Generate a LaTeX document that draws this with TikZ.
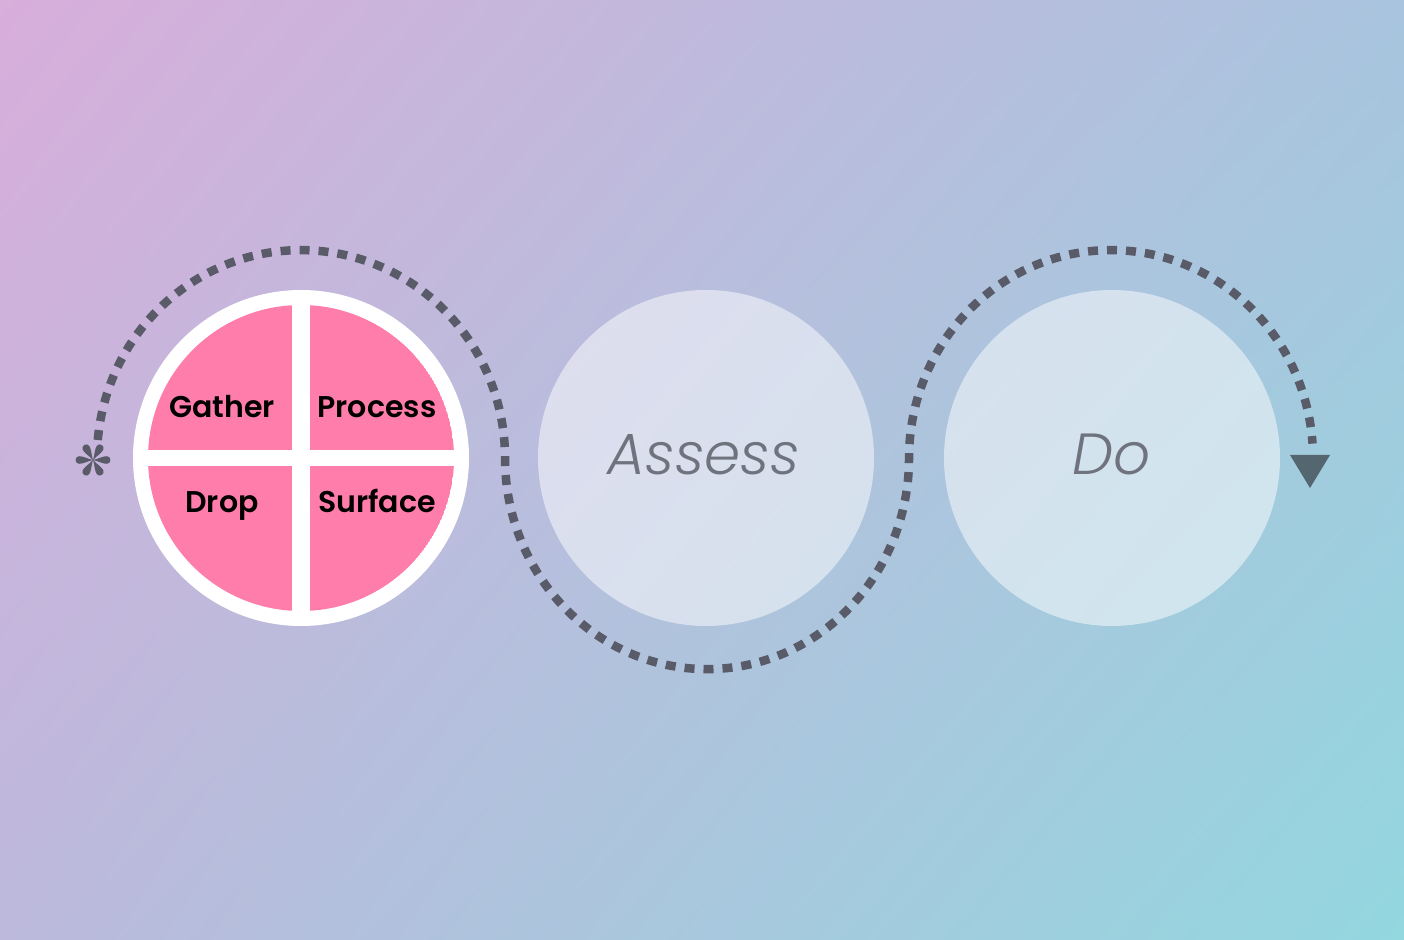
\documentclass[tikz,border=0pt]{standalone}
\usepackage{fontspec}
\usetikzlibrary{shadings}
\setmainfont{Poppins}
\newfontfamily\labfont{Poppins SemiBold}
\newfontfamily\lightit{Poppins Light Italic}
\definecolor{bgTL}{HTML}{D8AEDB}
\definecolor{bgTR}{HTML}{A9C4DE}
\definecolor{bgBL}{HTML}{BCB9DC}
\definecolor{bgBR}{HTML}{93D7DF}
\definecolor{pinkq}{HTML}{FF7DAA}
\definecolor{dotcol}{HTML}{595B69}
\definecolor{arrowcol}{HTML}{546670}
\definecolor{txtgrey}{HTML}{6E737E}
\tikzset{
  x=1pt, y=1pt,
  bigdisk/.style={circle, minimum size=336pt, inner sep=0pt, outer sep=0pt},
  ghost/.style={bigdisk, fill=white, fill opacity=0.5},
  quadlabel/.style={anchor=base, inner sep=0pt, font=\labfont\fontsize{30}{36}\selectfont, text=black},
  steplabel/.style={anchor=base, inner sep=0pt, font=\lightit\fontsize{58}{68}\selectfont, text=txtgrey},
  dotline/.style={draw=dotcol, line width=8.5pt, dash pattern=on 10pt off 9pt},
  petal/.style={fill=dotcol}
}
\begin{document}
\begin{tikzpicture}
\useasboundingbox (0,0) rectangle (1404,939);
\shade[upper left=bgTL, upper right=bgTR, lower left=bgBL, lower right=bgBR] (0,0) rectangle (1404,939);

% first circle: white ring with pink quadrants
\node[bigdisk, fill=white] (c1) at (301,481) {};
\begin{scope}
  \clip (c1.center) circle[radius=153];
  \fill[pinkq] (c1.center) circle[radius=153];
  \fill[white] (292,300) rectangle (310,660);
  \fill[white] (140,473) rectangle (460,489);
\end{scope}

\node[quadlabel] (gather) at (222,521) {Gather};
\node[quadlabel] (process) at (377,521) {Process};
\node[quadlabel] (drop) at (222,426) {Drop};
\node[quadlabel] (surface) at (377,426) {Surface};

% second and third circles
\node[ghost] (c2) at (706,481) {};
\node[ghost] (c3) at (1112,481) {};
\node[steplabel] (assess) at (704,464) {Assess};
\node[steplabel] (do) at (1112,464) {Do};

% asterisk start marker
\coordinate (star) at (93,479);
\foreach \a in {0,60,120,180,240,300}{
  \fill[petal, shift={(star)}, rotate=\a] (0,0) .. controls (5,-1) and (10,-4) .. (14,-3.8) .. controls (18.5,-3.6) and (18.5,3.6) .. (14,3.8) .. controls (10,4) and (5,1) .. (0,0);
}

% dotted S-shaped path
\coordinate (s) at (97.8,499);
\draw[dotline] (s)
  arc[start angle=175, end angle=0, x radius=204, y radius=208]
  arc[start angle=180, end angle=360, x radius=202, y radius=211]
  arc[start angle=180, end angle=4, x radius=202, y radius=208] coordinate (e);

% arrow head
\coordinate (tip) at (1310,451);
\fill[arrowcol] (tip) -- (1290,484) -- (1330,484) -- cycle;
\end{tikzpicture}
\end{document}
